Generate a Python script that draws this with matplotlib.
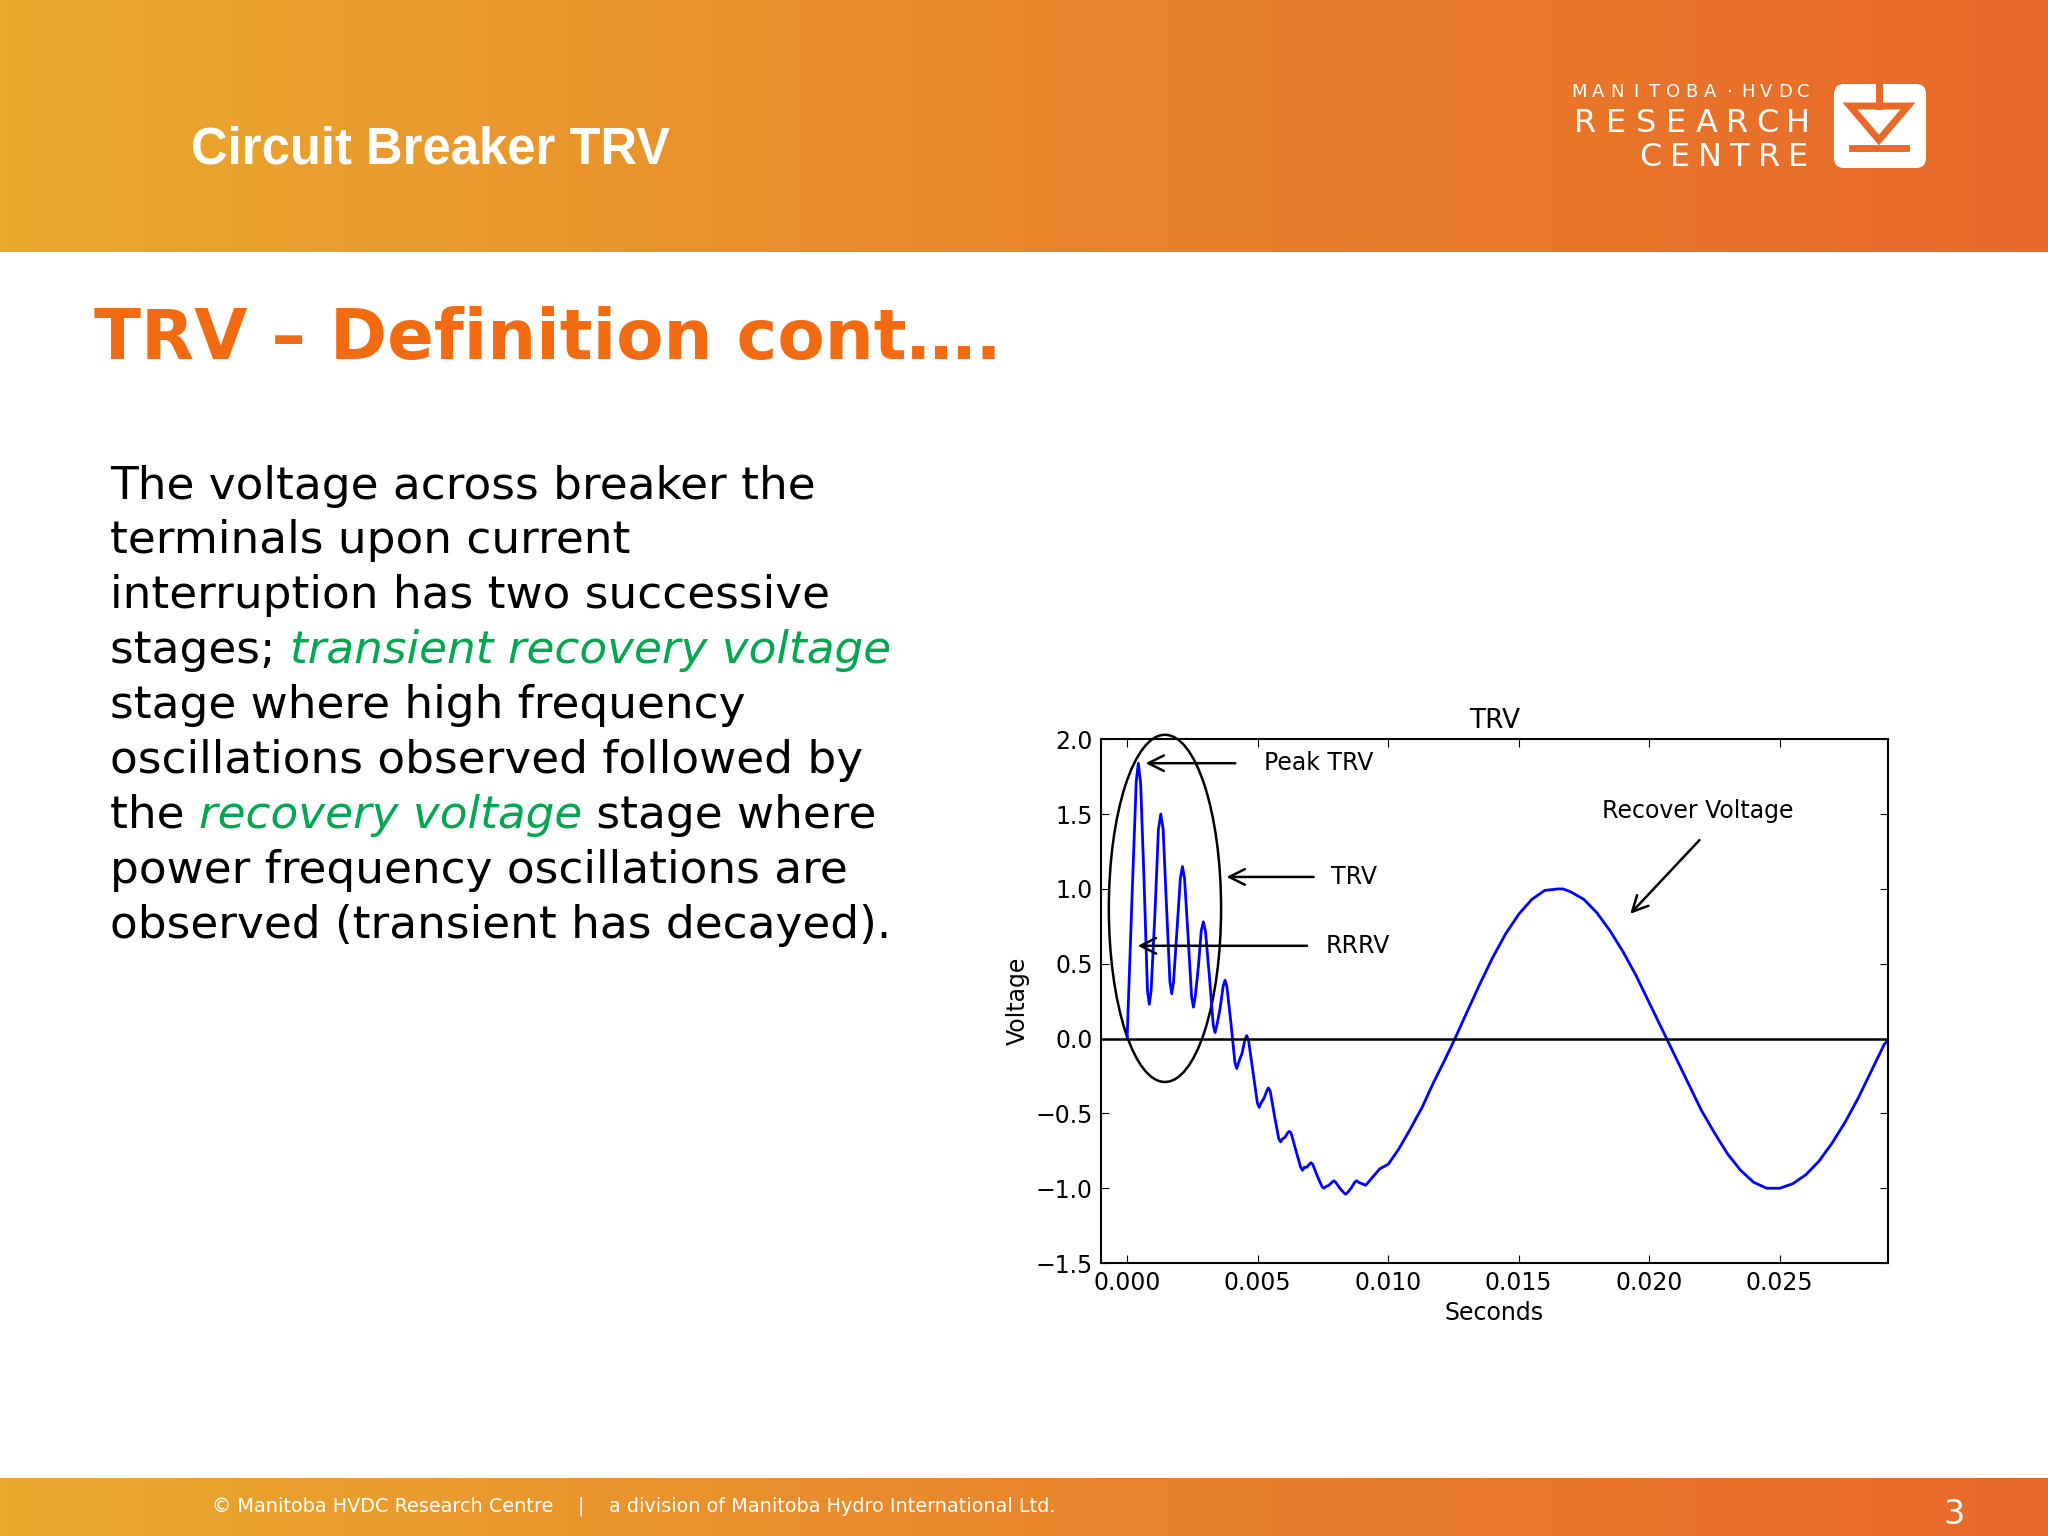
import matplotlib
matplotlib.use("Agg")
import matplotlib.pyplot as plt
import numpy as np
from matplotlib.patches import Ellipse, FancyBboxPatch, Polygon
from matplotlib.colors import LinearSegmentedColormap

# ---- data ----
t_vals = [0.0, 0.0002, 0.00035, 0.00043, 0.00052, 0.00065, 0.00078, 0.00085, 0.00092,
          0.00107, 0.0012, 0.00129, 0.00138, 0.0015, 0.00164, 0.00171, 0.00178,
          0.0019, 0.00204, 0.00212, 0.0022, 0.00233, 0.00247, 0.00254, 0.00261,
          0.00273, 0.00284, 0.00292, 0.003, 0.00315, 0.0033, 0.00337, 0.00344,
          0.00356, 0.00368, 0.00375, 0.00382, 0.00398, 0.00413, 0.0042, 0.00427,
          0.0044, 0.00451, 0.00458, 0.00465, 0.00482, 0.00499, 0.00506, 0.00513,
          0.00524, 0.00535, 0.00541, 0.00548, 0.00565, 0.00581, 0.00588, 0.00595,
          0.00605, 0.00615, 0.00621, 0.00628, 0.00647, 0.00665, 0.00672, 0.00679,
          0.00688, 0.00698, 0.00704, 0.00711, 0.00729, 0.00747, 0.00754, 0.00761,
          0.00773, 0.00785, 0.00792, 0.00799, 0.00815, 0.0083, 0.00837, 0.00844,
          0.00858, 0.00872, 0.00879, 0.00886, 0.00914, 0.00968, 0.0100, 0.0104,
          0.01083, 0.0113, 0.01172, 0.01215, 0.01256, 0.0130, 0.0135, 0.0140, 0.0145,
          0.0150, 0.0155, 0.0160, 0.0165, 0.0167, 0.0170, 0.0175, 0.0180, 0.0185,
          0.0190, 0.0195, 0.0200, 0.0205, 0.0210, 0.0215, 0.0220, 0.0225, 0.0230,
          0.0235, 0.0240, 0.0245, 0.0250, 0.0255, 0.0260, 0.0265, 0.0270, 0.0275,
          0.0280, 0.0285, 0.0290, 0.0292]
v_vals = [0.0, 1.0, 1.72, 1.84, 1.70, 1.05, 0.32, 0.23, 0.32,
          0.85, 1.40, 1.50, 1.40, 0.92, 0.38, 0.30, 0.38,
          0.70, 1.07, 1.15, 1.07, 0.70, 0.28, 0.21, 0.28,
          0.48, 0.72, 0.78, 0.72, 0.42, 0.09, 0.04, 0.09,
          0.20, 0.35, 0.39, 0.35, 0.10, -0.16, -0.20, -0.16,
          -0.10, -0.01, 0.02, -0.01, -0.22, -0.43, -0.46, -0.43,
          -0.40, -0.35, -0.33, -0.35, -0.52, -0.67, -0.69, -0.67,
          -0.66, -0.63, -0.62, -0.63, -0.75, -0.86, -0.88, -0.86,
          -0.86, -0.84, -0.83, -0.84, -0.92, -0.99, -1.00, -0.99,
          -0.98, -0.96, -0.95, -0.96, -1.00, -1.03, -1.04, -1.03,
          -1.00, -0.96, -0.95, -0.96, -0.98, -0.87, -0.84, -0.74,
          -0.61, -0.46, -0.30, -0.15, 0.0, 0.17, 0.36, 0.54, 0.70,
          0.83, 0.93, 0.99, 1.00, 1.00, 0.98, 0.93, 0.84, 0.72,
          0.58, 0.42, 0.24, 0.06, -0.12, -0.30, -0.48, -0.63, -0.77,
          -0.88, -0.96, -1.00, -1.00, -0.97, -0.91, -0.82, -0.70, -0.56,
          -0.40, -0.22, -0.04, 0.0]
x_ticks = [0.000, 0.005, 0.010, 0.015, 0.020, 0.025]
y_ticks = [-1.5, -1.0, -0.5, 0.0, 0.5, 1.0, 1.5, 2.0]

W, H = 2048, 1536
fig = plt.figure(figsize=(20.48, 15.36), dpi=100)
fig.patch.set_facecolor("white")

bg = fig.add_axes([0, 0, 1, 1])
bg.axis("off")

grad = np.linspace(0, 1, 256)[None, :]
cmap = LinearSegmentedColormap.from_list("o", ["#E9AA2E", "#E9862C", "#E8692A"])
bg.imshow(grad, cmap=cmap, extent=[0, W, 252, 0], aspect="auto", zorder=0)
bg.imshow(grad, cmap=cmap, extent=[0, W, H, 1478], aspect="auto", zorder=0)
bg.set_xlim(0, W); bg.set_ylim(H, 0)

bg.text(191, 150, "Circuit Breaker TRV", color="white", fontsize=36.5, fontweight="bold",
        family="Liberation Sans", va="center")

# logo text, spaced letters
def spaced(s, x0, x1, y, fs):
    adv = (x1 - x0) / len(s)
    for i, ch in enumerate(s):
        bg.text(x0 + adv * (i + 0.5), y, ch, color="white", fontsize=fs,
                ha="center", va="center", family="DejaVu Sans")

spaced("MANITOBA·HVDC", 1570, 1813, 92, 13)
spaced("RESEARCH", 1570, 1813, 123, 23)
spaced("CENTRE", 1636, 1813, 157, 23)
bg.add_patch(FancyBboxPatch((1836, 86), 88, 80, boxstyle="round,pad=2,rounding_size=10",
                            fc="white", ec="none", zorder=2))
bg.add_patch(Polygon([[1850, 106], [1908, 106], [1879, 140]], closed=True, fc="none",
                     ec="#E8692A", lw=5, zorder=3))
bg.plot([1879, 1879], [84, 106], color="#E8692A", lw=5, zorder=3)
bg.plot([1852, 1906], [148, 148], color="#E8692A", lw=5, zorder=3)

bg.text(94, 340, "TRV – Definition cont….", color="#F26B12", fontsize=49.6,
        fontweight="bold", family="DejaVu Sans", va="center")

lines = [
    [("The voltage across breaker the", "k")],
    [("terminals upon current", "k")],
    [("interruption has two successive", "k")],
    [("stages; ", "k"), ("transient recovery voltage", "g")],
    [("stage where high frequency", "k")],
    [("oscillations observed followed by", "k")],
    [("the ", "k"), ("recovery voltage", "g"), (" stage where", "k")],
    [("power frequency oscillations are", "k")],
    [("observed (transient has decayed).", "k")],
]
fig.canvas.draw()
r = fig.canvas.get_renderer()
inv = bg.transData.inverted()
y = 486
for ln in lines:
    x = 110
    for s, c in ln:
        tx = bg.text(x, y, s, fontsize=32.7, va="center", family="DejaVu Sans",
                     color="#00A650" if c == "g" else "black",
                     style="italic" if c == "g" else "normal")
        bb = tx.get_window_extent(renderer=r)
        x = inv.transform((bb.x1, bb.y0))[0]
    y += 54.9

bg.text(212, 1506, "© Manitoba HVDC Research Centre    |    a division of Manitoba Hydro International Ltd.",
        color="white", fontsize=13.9, va="center", family="DejaVu Sans")
bg.text(1943, 1514, "3", color="white", fontsize=24, va="center", family="DejaVu Sans")

# chart
ax = fig.add_axes([0.5376, 0.1777, 0.3843, 0.341])
ax.plot(t_vals, v_vals, color="#0000FF", lw=2)
ax.axhline(0, color="black", lw=1.8)
ax.set_xlim(-0.001, 0.02915)
ax.set_ylim(-1.5, 2.0)
ax.set_xticks(x_ticks)
ax.set_xticklabels([f"{v:.3f}" for v in x_ticks])
ax.set_yticks(y_ticks)
ax.set_yticklabels([f"{v:.1f}".replace("-", "\u2212") for v in y_ticks])
ax.tick_params(direction="in", top=True, right=True, length=6, labelsize=17, pad=6)
for sp in ax.spines.values():
    sp.set_linewidth(1.5)
ax.set_title("TRV", fontsize=19, pad=8)
ax.set_xlabel("Seconds", fontsize=17)
ax.set_ylabel("Voltage", fontsize=17)
ax.add_patch(Ellipse((0.00145, 0.87), 0.0043, 2.32, fc="none", ec="black", lw=1.8, clip_on=False))
ap = dict(arrowstyle="->", color="black", lw=1.8, mutation_scale=28)
ax.annotate("", xy=(0.0006, 1.84), xytext=(0.00425, 1.84), arrowprops=ap)
ax.text(0.00525, 1.84, "Peak TRV", fontsize=17, va="center")
ax.annotate("", xy=(0.0037, 1.08), xytext=(0.00725, 1.08), arrowprops=ap)
ax.text(0.0078, 1.08, "TRV", fontsize=17, va="center")
ax.annotate("", xy=(0.0003, 0.62), xytext=(0.0070, 0.62), arrowprops=ap)
ax.text(0.0076, 0.62, "RRRV", fontsize=17, va="center")
ax.annotate("", xy=(0.0192, 0.82), xytext=(0.0220, 1.34), arrowprops=ap)
ax.text(0.02185, 1.52, "Recover Voltage", fontsize=17, va="center", ha="center")

fig.savefig("out.png", dpi=100)
